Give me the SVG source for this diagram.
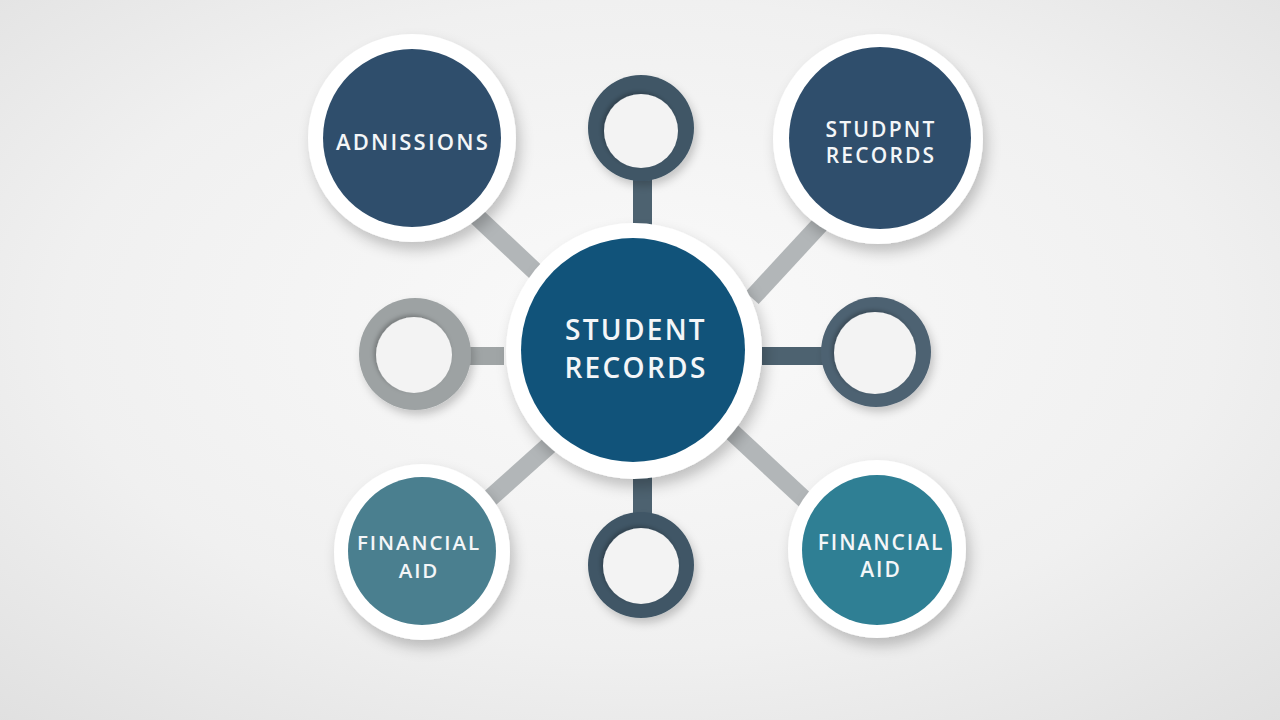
<svg xmlns="http://www.w3.org/2000/svg" width="1280" height="720" viewBox="0 0 1280 720">
  <defs>
    <radialGradient id="bg" cx="50%" cy="45%" r="75%">
      <stop offset="0" stop-color="#fafafa"/>
      <stop offset="0.6" stop-color="#f0f0f0"/>
      <stop offset="1" stop-color="#e0e0e0"/>
    </radialGradient>
    <filter id="sh" x="-30%" y="-30%" width="160%" height="160%">
      <feDropShadow dx="4" dy="8" stdDeviation="7" flood-color="#000" flood-opacity="0.22"/>
    </filter>
    <filter id="shs" x="-30%" y="-30%" width="160%" height="160%">
      <feDropShadow dx="3" dy="5" stdDeviation="4" flood-color="#000" flood-opacity="0.2"/>
    </filter>
    <filter id="ins" x="-30%" y="-30%" width="160%" height="160%">
      <feDropShadow dx="-2" dy="-2" stdDeviation="2" flood-color="#000" flood-opacity="0.25"/>
    </filter>
    <style>
      .ring { fill: #ffffff; filter: url(#sh); }
      .lbl { font-family: "Open Sans", "Noto Sans", "Liberation Sans", sans-serif; font-weight: 600; fill: #f4f6f8; text-anchor: middle; }
      .conn { stroke: #b2b6b8; stroke-width: 18; stroke-linecap: butt; }
      .stem-dark { fill: #4d6270; }
      .stem-gray { fill: #a0a5a6; }
      .hole { fill: #f3f3f3; filter: url(#ins); }
    </style>
  </defs>
  <rect width="1280" height="720" fill="url(#bg)"/>

  <g id="connectors">
    <line class="conn" x1="472" y1="212" x2="540" y2="276"/>
    <line class="conn" x1="826" y1="218" x2="752" y2="298"/>
    <line class="conn" x1="555" y1="440" x2="488" y2="500"/>
    <line class="conn" x1="732" y1="432" x2="805" y2="500"/>
    <rect class="stem-dark" x="633" y="170" width="19" height="55"/>
    <rect class="stem-dark" x="633" y="470" width="19" height="48"/>
    <rect class="stem-gray" x="462" y="347" width="42" height="18"/>
    <rect class="stem-dark" x="762" y="347" width="62" height="18"/>
  </g>

  <g id="ring-top">
    <circle cx="641" cy="128" r="53" fill="#3f5666" filter="url(#shs)"/>
    <circle class="hole" cx="641" cy="131" r="37"/>
  </g>
  <g id="ring-bottom">
    <circle cx="641" cy="565" r="53" fill="#3f5666" filter="url(#shs)"/>
    <circle class="hole" cx="641" cy="566" r="38"/>
  </g>
  <g id="ring-left">
    <circle cx="415" cy="354" r="56" fill="#9da2a3" filter="url(#shs)"/>
    <circle class="hole" cx="414" cy="355" r="38"/>
  </g>
  <g id="ring-right">
    <circle cx="876" cy="352" r="55" fill="#4e6272" filter="url(#shs)"/>
    <circle class="hole" cx="875" cy="353" r="41"/>
  </g>

  <g id="node-admissions">
    <circle class="ring" cx="412" cy="138" r="104"/>
    <circle cx="412" cy="138" r="89" fill="#2f4e6c"/>
    <text class="lbl" x="413" y="150" font-size="22" letter-spacing="2.2">ADNISSIONS</text>
  </g>

  <g id="node-records-top">
    <circle class="ring" cx="878" cy="139" r="105"/>
    <circle cx="880" cy="138" r="91" fill="#2f4e6c"/>
    <text class="lbl" x="881" y="137" font-size="21" letter-spacing="2.2">STUDPNT</text>
    <text class="lbl" x="881" y="163" font-size="21" letter-spacing="2.2">RECORDS</text>
  </g>

  <g id="node-center">
    <circle class="ring" cx="634" cy="351" r="128"/>
    <circle cx="633" cy="350" r="112" fill="#11537a"/>
    <text class="lbl" x="636" y="340" font-size="28" letter-spacing="2.3">STUDENT</text>
    <text class="lbl" x="636" y="378" font-size="28" letter-spacing="2.3">RECORDS</text>
  </g>

  <g id="node-aid-left">
    <circle class="ring" cx="422" cy="552" r="88"/>
    <circle cx="422" cy="551" r="74" fill="#4a7f8f"/>
    <text class="lbl" x="419" y="550" font-size="20.5" letter-spacing="1.9">FINANCIAL</text>
    <text class="lbl" x="419" y="578" font-size="20.5" letter-spacing="1.9">AID</text>
  </g>

  <g id="node-aid-right">
    <circle class="ring" cx="877" cy="549" r="89"/>
    <circle cx="877" cy="550" r="75" fill="#2f7f94"/>
    <text class="lbl" x="881" y="550" font-size="21" letter-spacing="1.9">FINANCIAL</text>
    <text class="lbl" x="881" y="577" font-size="21" letter-spacing="1.9">AID</text>
  </g>
</svg>
